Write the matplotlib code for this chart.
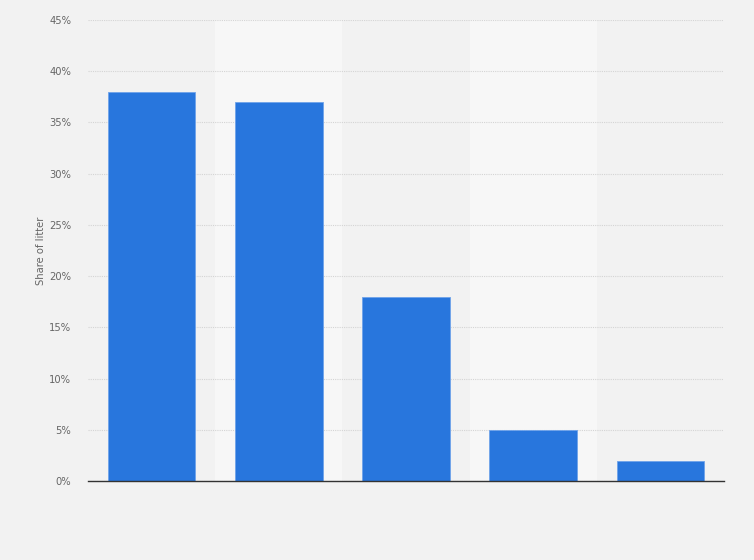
import matplotlib
matplotlib.use("Agg")
import matplotlib.pyplot as plt
from matplotlib.ticker import FuncFormatter

categories = ["A", "B", "C", "D", "E"]
values = [38, 37, 18, 5, 2]
yticks = [0, 5, 10, 15, 20, 25, 30, 35, 40, 45]

fig = plt.figure(figsize=(7.54, 5.60), dpi=100)
fig.patch.set_facecolor("#f2f2f2")
ax = fig.add_axes([88/754, 79/560, 636/754, 461/560])
ax.set_facecolor("#f2f2f2")

x = list(range(len(categories)))
for i in x:
    if i % 2 == 1:
        ax.axvspan(i - 0.5, i + 0.5, color="#f7f7f7", zorder=0, lw=0)

ax.bar(x, values, width=0.69, color="#2876dd", edgecolor="#6fa3ea", linewidth=0.6, zorder=3)

ax.set_xlim(-0.5, len(categories) - 0.5)
ax.set_ylim(0, 45)
ax.set_yticks(yticks)
ax.yaxis.set_major_formatter(FuncFormatter(lambda v, p: f"{int(v)}%"))
ax.set_xticks([])
ax.grid(axis="y", color="#d4d4d4", linestyle=(0, (1, 1)), linewidth=0.8, zorder=1)
for s in ["top", "right", "left"]:
    ax.spines[s].set_visible(False)
ax.spines["bottom"].set_color("#333333")
ax.spines["bottom"].set_linewidth(1.0)
ax.spines["bottom"].set_zorder(4)
ax.tick_params(axis="y", length=0, labelsize=7.2, labelcolor="#666666", pad=12)
ax.set_ylabel("Share of litter", fontsize=7.2, color="#666666", labelpad=2.5)

fig.savefig("out.png", dpi=100, facecolor=fig.get_facecolor())
